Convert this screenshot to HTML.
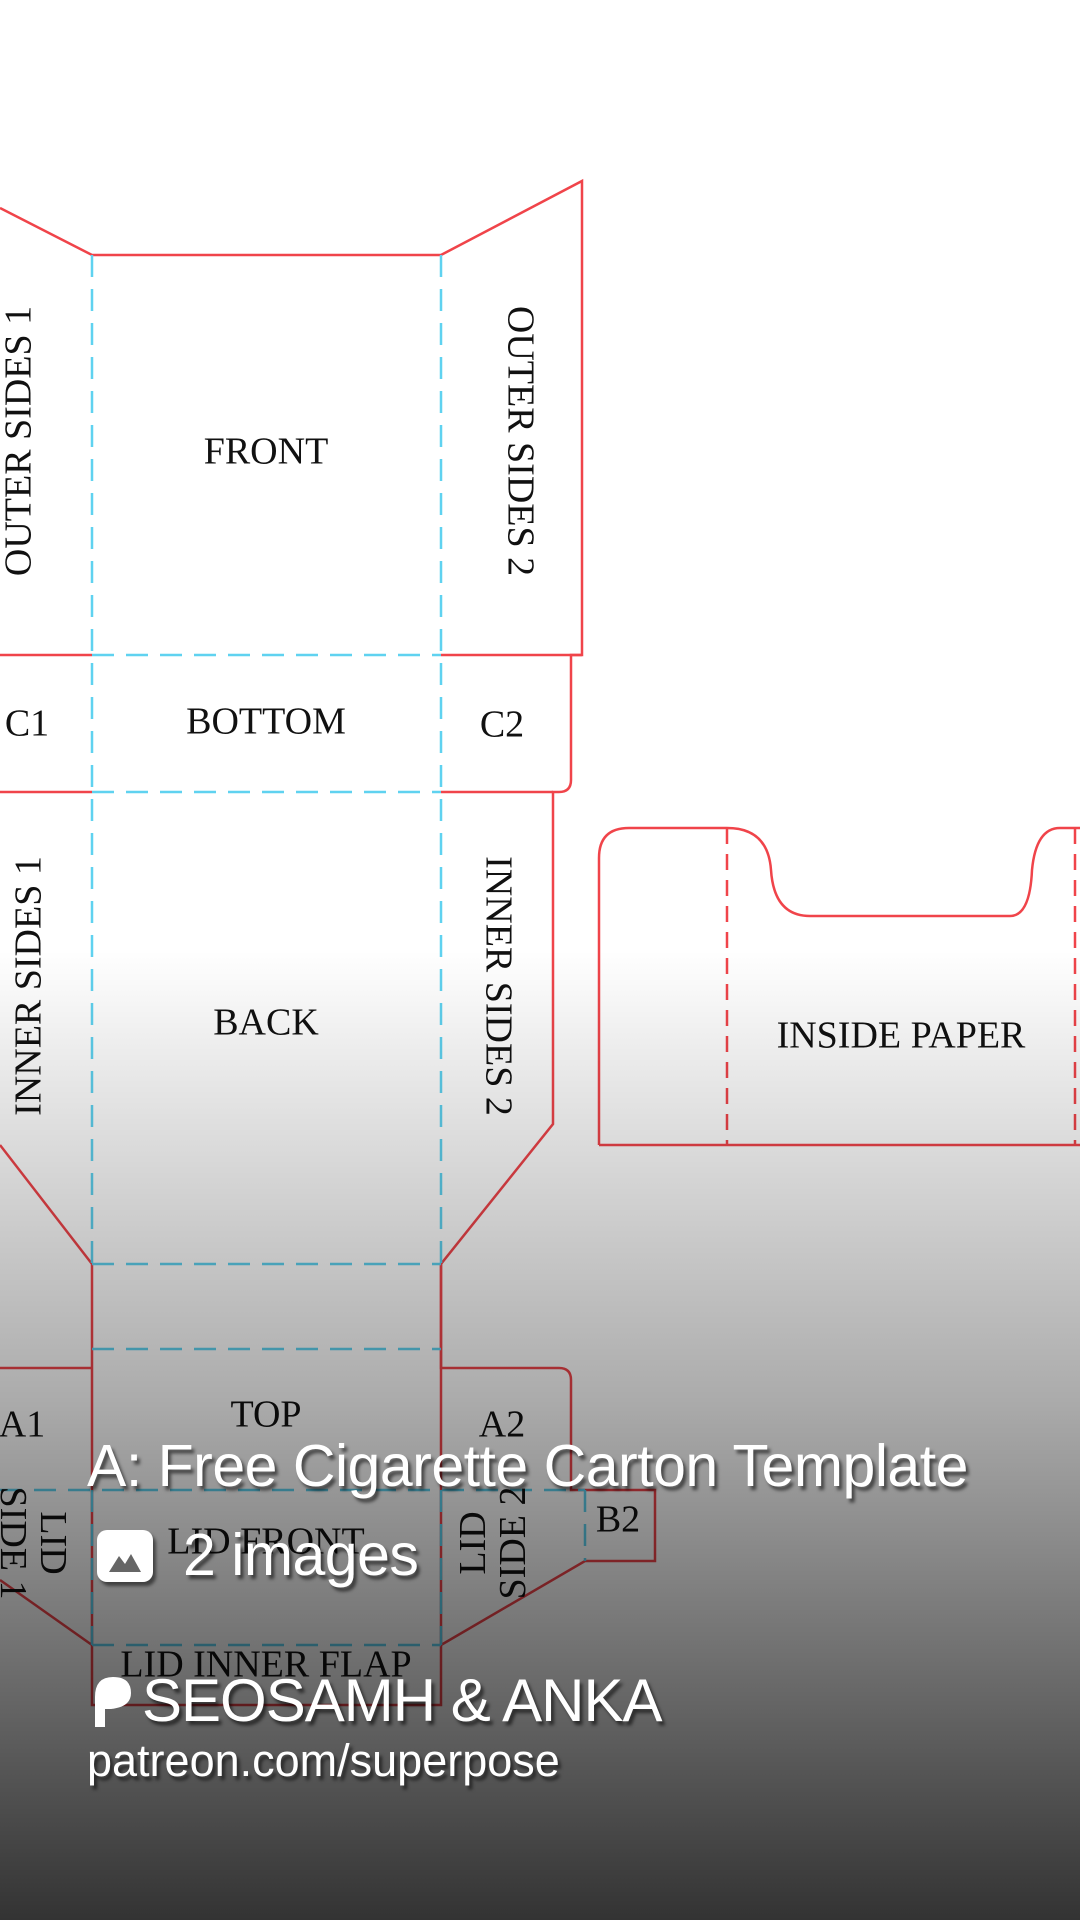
<!DOCTYPE html>
<html><head><meta charset="utf-8"><style>
html,body{margin:0;padding:0;width:1080px;height:1920px;overflow:hidden;background:#fff}
svg{position:absolute;left:0;top:0}
.ov{position:absolute;left:0;top:0;width:1080px;height:1920px;background:linear-gradient(to bottom,rgba(0,0,0,0) 0px,rgba(0,0,0,0) 950px,rgba(0,0,0,0.33) 1400px,rgba(0,0,0,0.62) 1720px,rgba(0,0,0,0.8) 1920px)}
.t{position:absolute;color:#fff;font-family:"Liberation Sans",sans-serif;text-shadow:3px 4px 3px rgba(0,0,0,0.55);white-space:nowrap}
</style></head><body>
<svg width="1080" height="1920" viewBox="0 0 1080 1920" font-family="Liberation Serif, serif" fill="#111">
<g fill="none" stroke="#f0444a" stroke-width="2.5">
<path d="M0 208 L92 255 L441 255 L582 181 L582 655 L571 655 L571 780 Q571 792 559 792 L553 792 L553 1124 L441 1264 L441 1368 L559 1368 Q571 1368 571 1380 L571 1490 L655 1490 L655 1561 L585 1561 L441 1645 L441 1705 L92 1705 L92 1645 L0 1580"/>
<path d="M0 655 L92 655 M441 655 L582 655 M0 792 L92 792 M441 792 L553 792 M0 1145 L92 1264 M92 1264 L92 1645 M441 1264 L441 1645 M0 1368 L92 1368"/>
<path d="M599 1145 L599 858 Q599 828 629 828 L727 828 Q768 828 771 870 Q774 916 810 916 L1010 916 Q1030 916 1032 870 Q1036 828 1060 828 L1080 828 M599 1145 L1080 1145"/>
</g>
<g fill="none" stroke="#f0444a" stroke-width="2.5" stroke-dasharray="16 10">
<path d="M727 828 L727 1145 M1075 828 L1075 1145"/>
</g>
<g fill="none" stroke="#5fd2f0" stroke-width="2.5" stroke-dasharray="22 12">
<path d="M92 255 L92 1264 M441 255 L441 1264 M92 655 L441 655 M92 792 L441 792 M92 1264 L441 1264 M92 1349 L441 1349 M0 1490 L585 1490 M92 1645 L441 1645 M92 1490 L92 1645 M441 1490 L441 1645 M585 1490 L585 1561"/>
</g>
<g font-size="38" text-anchor="middle" dominant-baseline="middle">
<text x="266" y="455">FRONT</text>
<text x="266" y="725">BOTTOM</text>
<text x="27" y="727">C1</text>
<text x="502" y="728">C2</text>
<text x="266" y="1026">BACK</text>
<text x="901" y="1039">INSIDE PAPER</text>
<text x="266" y="1418">TOP</text>
<text x="22" y="1428">A1</text>
<text x="502" y="1428">A2</text>
<text x="618" y="1523">B2</text>
<text x="266" y="1545">LID FRONT</text>
<text x="266" y="1668">LID INNER FLAP</text>
<text transform="translate(22,441) rotate(-90)">OUTER SIDES 1</text>
<text transform="translate(517,441) rotate(90)">OUTER SIDES 2</text>
<text transform="translate(32,986) rotate(-90)">INNER SIDES 1</text>
<text transform="translate(495,986) rotate(90)">INNER SIDES 2</text>
<text transform="translate(496,1543) rotate(-90)"><tspan x="0" dy="-20">LID</tspan><tspan x="0" dy="40">SIDE 2</tspan></text>
<text transform="translate(30,1543) rotate(90)"><tspan x="0" dy="-20">LID</tspan><tspan x="0" dy="40">SIDE 1</tspan></text>
</g>
</svg>
<div class="ov"></div>
<div class="t" style="left:87px;top:1432px;font-size:59px;letter-spacing:-0.5px">A: Free Cigarette Carton Template</div>
<div style="position:absolute;left:97px;top:1530px;width:56px;height:52px;background:#fff;border-radius:10px;box-shadow:3px 4px 3px rgba(0,0,0,0.5)">
<svg width="56" height="52" style="position:absolute;left:0;top:0"><path d="M12 42 L22 26 L28 34 L34 24 L44 42 Z" fill="#666"/></svg></div>
<div class="t" style="left:183px;top:1521px;font-size:59px;letter-spacing:-0.5px">2 images</div>
<div style="position:absolute;left:89px;top:1675px;width:42px;height:52px">
<svg width="44" height="54"><path d="M6 52 L6 22 Q6 2 24 2 Q42 2 42 18 Q42 32 22 34 L16 34 L16 52 Z" fill="#fff"/></svg></div>
<div class="t" style="left:142px;top:1666px;font-size:60px;letter-spacing:-1px">SEOSAMH &amp; ANKA</div>
<div class="t" style="left:87px;top:1735px;font-size:45px">patreon.com/superpose</div>
</body></html>
